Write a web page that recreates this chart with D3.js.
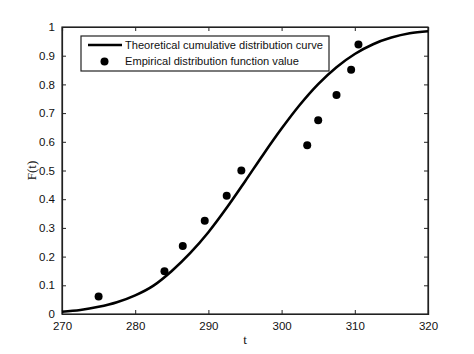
<!DOCTYPE html>
<html>
<head>
<meta charset="utf-8">
<script src="https://cdn.jsdelivr.net/npm/d3@7"></script>
<style>
  html, body { margin: 0; padding: 0; background: #fff; }
  svg { display: block; }
  text { font-family: "Liberation Sans", Arial, sans-serif; fill: #111; }
</style>
</head>
<body>
<svg id="chart" width="474" height="354"></svg>
<script>
// Theoretical cumulative distribution curve
const curveT = [270, 272.5, 275, 277.5, 280, 282.5, 285, 287.5, 290, 292.5, 295, 297.5, 300, 302.5, 305, 307.5, 310, 312.5, 315, 317.5, 320];
const curveF = [0.008, 0.014, 0.025, 0.041, 0.065, 0.099, 0.150, 0.212, 0.285, 0.370, 0.462, 0.556, 0.646, 0.729, 0.801, 0.860, 0.906, 0.940, 0.963, 0.978, 0.985];

// Empirical distribution function values
const empT = [275, 284, 286.5, 289.5, 292.5, 294.5, 303.5, 305, 307.5, 309.5, 310.5];
const empF = [0.061, 0.149, 0.237, 0.325, 0.412, 0.500, 0.588, 0.675, 0.763, 0.851, 0.939];

const xTicks = [270, 280, 290, 300, 310, 320];
const yTicks = [0, 0.1, 0.2, 0.3, 0.4, 0.5, 0.6, 0.7, 0.8, 0.9, 1];

const legendLabels = ["Theoretical cumulative distribution curve", "Empirical distribution function value"];

const svg = d3.select("#chart");
const L = 62, R = 428, T = 27, B = 314;

const x = d3.scaleLinear().domain([270, 320]).range([L, R]);
const y = d3.scaleLinear().domain([0, 1]).range([B, T]);

const fmtY = d => d === 0 ? "0" : (d === 1 ? "1" : d3.format(".1f")(d));

// Axes (inward ticks, MATLAB style box)
const gx = svg.append("g").attr("transform", `translate(0,${B})`)
  .call(d3.axisBottom(x).tickValues(xTicks).tickSize(-4).tickPadding(8).tickFormat(d3.format("d")));
const gxTop = svg.append("g").attr("transform", `translate(0,${T})`)
  .call(d3.axisTop(x).tickValues(xTicks).tickSize(-4).tickFormat(""));
const gy = svg.append("g").attr("transform", `translate(${L},0)`)
  .call(d3.axisLeft(y).tickValues(yTicks).tickSize(-4).tickPadding(7).tickFormat(fmtY));
const gyR = svg.append("g").attr("transform", `translate(${R},0)`)
  .call(d3.axisRight(y).tickValues(yTicks).tickSize(-4).tickFormat(""));

[gx, gxTop, gy, gyR].forEach(g => {
  g.select(".domain").attr("stroke", "#222").attr("stroke-width", 1.2);
  g.selectAll(".tick line").attr("stroke", "#222").attr("stroke-width", 1);
  g.selectAll(".tick text").attr("font-size", 11.5).attr("fill", "#111")
    .attr("font-family", "'Liberation Sans', Arial, sans-serif");
});
svg.append("rect").attr("x", L).attr("y", T).attr("width", R - L).attr("height", B - T)
  .attr("fill", "none").attr("stroke", "#222").attr("stroke-width", 1.2);

// Curve
const curveData = curveT.map((t, i) => [t, curveF[i]]);
svg.append("path").datum(curveData)
  .attr("fill", "none").attr("stroke", "#000").attr("stroke-width", 2.6)
  .attr("d", d3.line().x(d => x(d[0])).y(d => y(d[1])).curve(d3.curveMonotoneX));

// Empirical points
svg.append("g").selectAll("circle").data(empT.map((t, i) => [t, empF[i]]))
  .join("circle")
  .attr("cx", d => x(d[0])).attr("cy", d => y(d[1])).attr("r", 4)
  .attr("fill", "#000");

// Axis labels
svg.append("text").attr("x", (L + R) / 2).attr("y", 344)
  .attr("text-anchor", "middle").attr("font-size", 13)
  .style("font-family", "'Liberation Serif', 'Times New Roman', serif").text("t");
svg.append("text").attr("transform", `translate(36,${(T + B) / 2}) rotate(-90)`)
  .attr("text-anchor", "middle").attr("font-size", 13)
  .style("font-family", "'Liberation Serif', 'Times New Roman', serif").text("F(t)");

// Legend
const lg = svg.append("g");
lg.append("rect").attr("x", 81).attr("y", 36).attr("width", 248).attr("height", 35)
  .attr("fill", "#fff").attr("stroke", "#222").attr("stroke-width", 1.2);
lg.append("line").attr("x1", 88).attr("x2", 122).attr("y1", 45).attr("y2", 45)
  .attr("stroke", "#000").attr("stroke-width", 2.6);
lg.append("circle").attr("cx", 104.5).attr("cy", 61.5).attr("r", 4).attr("fill", "#000");
lg.selectAll("text.lab").data(legendLabels).join("text").attr("class", "lab")
  .attr("x", 125).attr("y", (d, i) => 45 + i * 16.5).attr("dy", "0.35em")
  .attr("font-size", 11.1).text(d => d);
</script>
</body>
</html>
